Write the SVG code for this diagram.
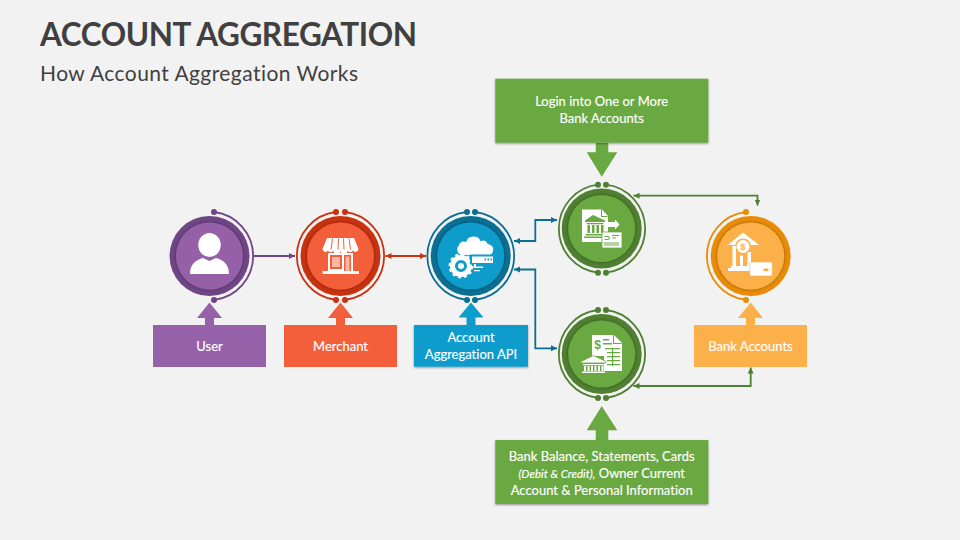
<svg xmlns="http://www.w3.org/2000/svg" width="960" height="540" viewBox="0 0 960 540">
<style>
text{font-family:"Lato","Open Sans","Liberation Sans",sans-serif;font-variant-ligatures:none}
.t{fill:#404040}
.l{fill:#fff;font-size:13px;text-anchor:middle;stroke:#fff;stroke-width:.15}
.c{fill:none;stroke-width:1.8}
.a{fill:none;stroke-width:1.8}
.w{fill:#fff}
.pu{stroke:#6f4585}.pf{fill:#6f4585}
.re{stroke:#c9320f}.rf{fill:#c9320f}
.bl{stroke:#0b6f94}.bf{fill:#0b6f94}
.gr{stroke:#4f7f30}.gf{fill:#4f7f30}
.or{stroke:#e88c08}.of{fill:#e88c08}
</style>
<defs>
<filter id="s" x="-10%" y="-10%" width="120%" height="125%"><feDropShadow dx="0" dy="1" stdDeviation="1.3" flood-color="#000" flood-opacity=".4"/></filter>
<filter id="i" x="-15%" y="-15%" width="130%" height="130%"><feDropShadow dx="0" dy="0" stdDeviation="1.6" flood-color="#000" flood-opacity=".45"/></filter>
<marker id="mP" markerUnits="userSpaceOnUse" markerWidth="7" markerHeight="7" refX="6" refY="3.500" orient="auto-start-reverse"><path d="M0 .5L6 3.500L0 6.500z" fill="#6f4585"/></marker>
<marker id="mR" markerUnits="userSpaceOnUse" markerWidth="7" markerHeight="7" refX="6" refY="3.500" orient="auto-start-reverse"><path d="M0 .5L6 3.500L0 6.500z" fill="#c9320f"/></marker>
<marker id="mB" markerUnits="userSpaceOnUse" markerWidth="7" markerHeight="7" refX="6" refY="3.500" orient="auto-start-reverse"><path d="M0 .5L6 3.500L0 6.500z" fill="#0b6f94"/></marker>
<marker id="mG" markerUnits="userSpaceOnUse" markerWidth="7" markerHeight="7" refX="6" refY="3.500" orient="auto-start-reverse"><path d="M0 .5L6 3.500L0 6.500z" fill="#4f7f30"/></marker>
</defs>
<rect width="960" height="540" fill="#f2f2f2"/>
<text id="title" class="t" x="40" y="46" font-size="31.500" font-weight="700" textLength="377" lengthAdjust="spacing">ACCOUNT AGGREGATION</text>
<text id="subtitle" class="t" x="40" y="81" font-size="21" textLength="318" lengthAdjust="spacing">How Account Aggregation Works</text>

<g id="connectors">
<path class="a pu" d="M253.500 256H295" marker-end="url(#mP)"/>
<path class="a re" d="M385.500 256H426" marker-start="url(#mR)" marker-end="url(#mR)"/>
<path class="a bl" d="M514 241H535.300V220H557" marker-start="url(#mB)" marker-end="url(#mB)"/>
<path class="a bl" d="M514 269.500H535.300V348.300H557" marker-start="url(#mB)" marker-end="url(#mB)"/>
<path class="a gr" d="M633.500 195.700H757.500V205.500" marker-start="url(#mG)" marker-end="url(#mG)"/>
<path class="a gr" d="M633.500 386H750.700V367.500" marker-start="url(#mG)" marker-end="url(#mG)"/>
</g>

<g id="node-user">
<circle cx="209.500" cy="256" r="40" fill="#6f4585"/>
<circle cx="209.500" cy="256" r="33.500" fill="#9561a8" filter="url(#i)"/>
<path class="c pu" d="M214 212A44.300 44.300 0 0 1 214 300"/>
<circle class="pf" cx="214" cy="212" r="3"/><circle class="pf" cx="214" cy="300" r="3"/>
<path class="w" d="M190 274C190 264 196 260 203 258L209.500 261L216 258C223 260 229 264 229 274z"/>
<ellipse class="w" cx="209.500" cy="245" rx="11.200" ry="12"/>
<path d="M205 325V318H197L209.500 302.500L222 318H214V325z" fill="#9561a8"/>
<rect x="153" y="325" width="113" height="42" fill="#9561a8"/>
<text class="l" x="209.500" y="351">User</text>
</g>

<g id="node-merchant">
<circle cx="340.500" cy="256" r="40" fill="#c9320f"/>
<circle cx="340.500" cy="256" r="33.500" fill="#f45f3b" filter="url(#i)"/>
<path class="c re" d="M345 212A44.300 44.300 0 0 1 345 300M336 212A44.300 44.300 0 0 0 336 300"/>
<circle class="rf" cx="336" cy="212" r="3"/><circle class="rf" cx="345" cy="212" r="3"/><circle class="rf" cx="336" cy="300" r="3"/><circle class="rf" cx="345" cy="300" r="3"/>
<path class="w" d="M327 238H354L358.500 249A3 3 0 0 1 353 250.500A3 3 0 0 1 347.500 250.500A3.500 3.500 0 0 1 340.500 250.500A3.500 3.500 0 0 1 333.500 250.500A3 3 0 0 1 328 250.500A3 3 0 0 1 322.500 249z"/>
<path fill="#f45f3b" d="M332 238.500h1l-1.500 11h-1zM338 238.500h1l-.5 11h-1zM343 238.500h1l.5 11h-1zM348.500 238.500h1l1.500 11h-1z"/>
<path class="w" fill-rule="evenodd" d="M328 253H353V271H328zM330 255V269H342V255zM344 255V271H351V255z"/>
<path class="w" d="M332 257H340V267H332zM345.500 256.500H349.500V271H345.500z" opacity=".55"/>
<path class="w" d="M322.500 271H359V274H322.500z"/>
<path d="M336 325V318H328L340.500 302.500L353 318H345V325z" fill="#f45f3b"/>
<rect x="284" y="325" width="113" height="42" fill="#f45f3b"/>
<text class="l" x="340.500" y="351">Merchant</text>
</g>

<g id="node-api">
<circle cx="470.700" cy="256" r="40" fill="#0b6f94"/>
<circle cx="470.700" cy="256" r="33.500" fill="#0e9ccb" filter="url(#i)"/>
<path class="c bl" d="M475 212A44.300 44.300 0 0 1 475 300M466.500 212A44.300 44.300 0 0 0 466.500 300"/>
<circle class="bf" cx="467" cy="212" r="3"/><circle class="bf" cx="475" cy="212" r="3"/><circle class="bf" cx="467" cy="300" r="3"/><circle class="bf" cx="475" cy="300" r="3"/>
<path class="w" d="M463 255A5.500 5.500 0 0 1 459 245.500C459.500 242 463 240.500 466 242A8 8 0 0 1 481 241C484 239.500 487 241 487.500 244C492 244.500 494 248 493 251C492.500 253.500 491 255 489 255z"/>
<path fill="none" stroke="#0e9ccb" stroke-width="1" d="M466 241A8 8 0 0 1 481 241"/>
<circle cx="461" cy="266" r="8.500" fill="none" stroke="#fff" stroke-width="5"/>
<circle cx="461" cy="266" r="11.500" fill="none" stroke="#fff" stroke-width="2" stroke-dasharray="3 3"/>
<circle cx="461" cy="266" r="3" class="w"/>
<path fill="#0e9ccb" d="M470 254.500H494V264.500H470z"/>
<path class="w" d="M472 256.500H493V263H472z"/>
<path fill="#0e9ccb" d="M484.500 258.500h1.500v2h-1.500zM487.500 258.500h1.500v2h-1.500zM490.500 258.500h1.500v2h-1.500z"/>
<path class="w" d="M474 264h2v3h-2zM474 266.500h9v1.500h-9zM474 270h6v1.200h-6z"/>
<path d="M466.500 325V317.500H458.500L471 302.500L483.500 317.500H475.500V325z" fill="#0e9ccb"/>
<rect x="414" y="325" width="114" height="41.700" fill="#0e9ccb" filter="url(#s)"/>
<text class="l" x="471" y="342">Account</text>
<text class="l" x="471" y="359">Aggregation API</text>
</g>

<g id="node-login">
<circle cx="601.700" cy="228.500" r="40" fill="#4f7f30"/>
<circle cx="601.700" cy="228.500" r="33.500" fill="#6aa842" filter="url(#i)"/>
<path class="c gr" d="M606 184.700A44.300 44.300 0 0 1 606 272.700M598 184.700A44.300 44.300 0 0 0 598 272.700"/>
<circle class="gf" cx="598" cy="184.700" r="3"/><circle class="gf" cx="606" cy="184.700" r="3"/><circle class="gf" cx="598" cy="272.700" r="3"/><circle class="gf" cx="606" cy="272.700" r="3"/>
<path class="w" d="M582 209.500H602L608 216V232H603V242H582z"/>
<path fill="#6aa842" d="M602 209.500V216H608L607 217H601V209.500z"/>
<path fill="#6aa842" d="M593 215L605 220.500V222H585V220.500zM586.500 223h17v1.200h-17zM587.500 225h2.500v8h-2.500zM592 225h2.500v8H592zM596.500 225h2.500v8h-2.500zM601 225h2.500v8H601zM585.500 234h19v1.500h-19zM584 236.500h20v1.500H584z"/>
<path class="w" d="M608 222H615V219.500L619.500 224.500L615 229.500V227H608z"/>
<rect x="602" y="232" width="20" height="16" fill="#fff" stroke="#6aa842" stroke-width=".8"/>
<path fill="none" stroke="#6aa842" stroke-width="1" d="M604.500 236.500h3.500a1.500 1.500 0 0 1 0 3h-3.500M612 235.500h7M612 238h4M604 243h15M604 245h15"/>
<path d="M595.700 142.700H608.300V152.300H617.300L601.700 176.700L586.700 152.300H595.700z" fill="#6aa842"/>
<rect x="495.300" y="78.700" width="213" height="64" fill="#6aa842" filter="url(#s)"/>
<text class="l" x="601.700" y="106">Login into One or More</text>
<text class="l" x="601.700" y="123">Bank Accounts</text>
</g>

<g id="node-balance">
<circle cx="601.700" cy="354" r="40" fill="#4f7f30"/>
<circle cx="601.700" cy="354" r="33.500" fill="#6aa842" filter="url(#i)"/>
<path class="c gr" d="M606 310A44.300 44.300 0 0 1 606 398M598 310A44.300 44.300 0 0 0 598 398"/>
<circle class="gf" cx="598" cy="310" r="3"/><circle class="gf" cx="606" cy="310" r="3"/><circle class="gf" cx="598" cy="398" r="3"/><circle class="gf" cx="606" cy="398" r="3"/>
<path class="w" d="M592 335H614L622 343V371H604V356H592z"/>
<path fill="#6aa842" d="M614 335V343H622L621 344H613V335zM603 339h6v1.500h-6zM603 343h9v1.500h-9zM605 348h15v1.200h-15zM607 352h13v1.200h-13zM607 356h13v1.200h-13zM607 360h13v1.200h-13zM607 364h13v1.200h-13zM612 348h1.200v18H612z"/>
<text x="597.500" y="349" font-size="12" font-weight="700" fill="#6aa842" text-anchor="middle" style="font-family:'Liberation Sans',sans-serif">$</text>
<path d="M593.500 355.500L606 361.500V363H581V361.500z" class="w" stroke="#6aa842" stroke-width=".8"/>
<path class="w" d="M583 364h21v1.200h-21zM584 366h2v5h-2zM587.500 366h2v5h-2zM591 366h2v5h-2zM594.500 366h2v5h-2zM598 366h2v5h-2zM601.500 366h2v5h-2zM582 371.500h23v1.500h-23z"/>
<path d="M595.700 440V430.300H586.700L601.700 406L617.300 430.300H608.300V440z" fill="#6aa842"/>
<rect x="495.300" y="440" width="213" height="64" fill="#6aa842" filter="url(#s)"/>
<text class="l" x="601.700" y="461">Bank Balance, Statements, Cards</text>
<text class="l" x="601.700" y="478"><tspan font-style="italic" font-size="11.500">(Debit &amp; Credit),</tspan> Owner Current</text>
<text class="l" x="601.700" y="495">Account &amp; Personal Information</text>
</g>

<g id="node-bank">
<circle cx="750.700" cy="256" r="40" fill="#e88c08"/>
<circle cx="750.700" cy="256" r="33.500" fill="#fbb04a" filter="url(#i)"/>
<path class="c or" d="M746 212A44.300 44.300 0 0 0 746 300"/>
<circle class="of" cx="746" cy="212" r="3"/><circle class="of" cx="746" cy="300" r="3"/>
<path class="w" d="M743 232.500L759 245H728z"/>
<circle cx="743" cy="246.500" r="8" fill="#fbb04a"/>
<circle class="w" cx="743" cy="246.500" r="6.500"/>
<text x="743" y="250" font-size="9.500" font-weight="700" fill="#fbb04a" text-anchor="middle" style="font-family:'Liberation Sans',sans-serif">$</text>
<path class="w" d="M732.500 246h3.500v20h-3.500zM740 255.500h3v10.500h-3zM747.500 252h3.500v14h-3.500zM731 266h20v2h-20zM728 268h25v3h-25z"/>
<rect x="749.800" y="262" width="22.500" height="14" rx="1.500" fill="#fff" stroke="#fbb04a" stroke-width=".6"/>
<path fill="#fbb04a" d="M763.500 268.500h5v2.500h-5z"/>
<path d="M746 325V318H738L750.700 302.500L763 318H755V325z" fill="#fbb04a"/>
<rect x="694" y="325" width="113" height="42" fill="#fbb04a"/>
<text class="l" x="750.500" y="351">Bank Accounts</text>
</g>
</svg>
